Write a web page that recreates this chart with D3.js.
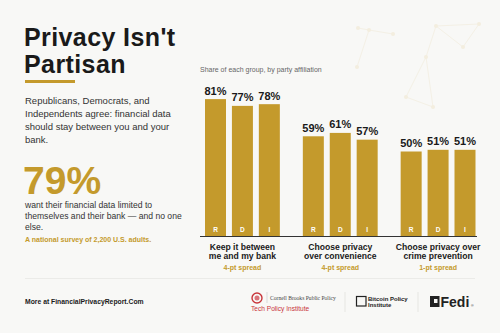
<!DOCTYPE html>
<html>
<head>
<meta charset="utf-8">
<script src="https://cdn.jsdelivr.net/npm/d3@7"></script>
<style>
  html, body { margin: 0; padding: 0; background: #f8f8f6; }
  svg { display: block; font-family: "Liberation Sans", Arial, sans-serif; }
</style>
</head>
<body>
<svg id="chart" width="500" height="333"></svg>
<script>
// data
var categories = ["Keep it between|me and my bank", "Choose privacy|over convenience", "Choose privacy over|crime prevention"];
var spreads = ["4-pt spread", "4-pt spread", "1-pt spread"];
var parties = ["R", "D", "I"];
var values = [
  [81, 77, 78],
  [59, 61, 57],
  [50, 51, 51]
];

var gold = "#c49a2c";
var svg = d3.select("#chart");

svg.append("rect").attr("width", 500).attr("height", 333).attr("fill", "#f8f8f6");

// faint constellation decoration
var stars = [[358, 28], [369, 30], [393, 34], [357, 67], [436, 26], [479, 24], [463, 47], [426, 57], [406, 97], [433, 107]];
var links = [[0, 1], [1, 2], [1, 3], [4, 5], [4, 6], [6, 5], [4, 7], [7, 8], [7, 9], [8, 9]];
var deco = svg.append("g").attr("opacity", 0.3);
links.forEach(function(l) {
  deco.append("line")
    .attr("x1", stars[l[0]][0]).attr("y1", stars[l[0]][1])
    .attr("x2", stars[l[1]][0]).attr("y2", stars[l[1]][1])
    .attr("stroke", "#e2cf9a").attr("stroke-width", 0.6);
});
stars.forEach(function(s) {
  deco.append("circle").attr("cx", s[0]).attr("cy", s[1]).attr("r", 2).attr("fill", "#ead9ac");
});

// left panel
var left = svg.append("g");
left.append("text").attr("x", 24).attr("y", 46).attr("font-size", 25).attr("font-weight", "bold")
  .attr("letter-spacing", 0.4).attr("fill", "#1a1a1a").text("Privacy Isn't");
left.append("text").attr("x", 24).attr("y", 73).attr("font-size", 25).attr("font-weight", "bold")
  .attr("letter-spacing", 0.4).attr("fill", "#1a1a1a").text("Partisan");
left.append("rect").attr("x", 25).attr("y", 80).attr("width", 50).attr("height", 3).attr("fill", gold);

var para = ["Republicans, Democrats, and", "Independents agree: financial data", "should stay between you and your", "bank."];
para.forEach(function(t, i) {
  left.append("text").attr("x", 25).attr("y", 104 + i * 13).attr("font-size", 9.5)
    .attr("fill", "#333").text(t);
});
left.append("text").attr("x", 23).attr("y", 193.5).attr("font-size", 39).attr("font-weight", "bold")
  .attr("fill", gold).text("79%");
var sub = ["want their financial data limited to", "themselves and their bank \u2014 and no one", "else."];
sub.forEach(function(t, i) {
  left.append("text").attr("x", 25).attr("y", 208 + i * 11).attr("font-size", 8.6)
    .attr("fill", "#333").text(t);
});
left.append("text").attr("x", 25).attr("y", 242).attr("font-size", 7).attr("font-weight", "bold")
  .attr("fill", gold).text("A national survey of 2,200 U.S. adults.");

// chart
svg.append("text").attr("x", 200).attr("y", 71.5).attr("font-size", 7).attr("fill", "#666")
  .text("Share of each group, by party affiliation");

var x0 = d3.scaleBand().domain(categories).range([205, 475.5]).paddingInner(0.235).paddingOuter(0);
var x1 = d3.scaleBand().domain(parties).range([0, x0.bandwidth()]).paddingInner(0.22).paddingOuter(0);
var y = d3.scaleLinear().domain([0, 100]).range([236, 67]);

var groups = svg.selectAll("g.grp").data(categories).enter().append("g")
  .attr("class", "grp")
  .attr("transform", function(d) { return "translate(" + x0(d) + ",0)"; });

groups.each(function(cat, gi) {
  var g = d3.select(this);
  var rows = parties.map(function(p, pi) { return { p: p, v: values[gi][pi] }; });
  g.selectAll("rect").data(rows).enter().append("rect")
    .attr("x", function(d) { return x1(d.p); })
    .attr("y", function(d) { return y(d.v); })
    .attr("width", x1.bandwidth())
    .attr("height", function(d) { return y(0) - y(d.v); })
    .attr("fill", gold);
  g.selectAll("text.val").data(rows).enter().append("text").attr("class", "val")
    .attr("x", function(d) { return x1(d.p) + x1.bandwidth() / 2; })
    .attr("y", function(d) { return y(d.v) - 4.5; })
    .attr("text-anchor", "middle").attr("font-size", 11).attr("font-weight", "bold")
    .attr("fill", "#1a1a1a")
    .text(function(d) { return d.v + "%"; });
  g.selectAll("text.lbl").data(rows).enter().append("text").attr("class", "lbl")
    .attr("x", function(d) { return x1(d.p) + x1.bandwidth() / 2; })
    .attr("y", 231.5)
    .attr("text-anchor", "middle").attr("font-size", 6.5).attr("font-weight", "bold")
    .attr("fill", "#fff")
    .text(function(d) { return d.p; });

  var cx = x0.bandwidth() / 2;
  cat.split("|").forEach(function(line, li) {
    g.append("text").attr("x", cx).attr("y", 249.5 + li * 9.7)
      .attr("text-anchor", "middle").attr("font-size", 8.6).attr("font-weight", "bold")
      .attr("fill", "#1a1a1a").text(line);
  });
  g.append("text").attr("x", cx).attr("y", 269.5)
    .attr("text-anchor", "middle").attr("font-size", 7).attr("font-weight", "bold")
    .attr("fill", gold).text(spreads[gi]);
});

svg.append("line").attr("x1", 200).attr("x2", 477).attr("y1", 236.5).attr("y2", 236.5)
  .attr("stroke", "#333").attr("stroke-width", 1);

// footer
svg.append("line").attr("x1", 25).attr("x2", 475).attr("y1", 278.5).attr("y2", 278.5)
  .attr("stroke", "#ebebe8").attr("stroke-width", 1);
svg.append("text").attr("x", 25).attr("y", 304).attr("font-size", 6.8).attr("font-weight", "bold")
  .attr("fill", "#1a1a1a").text("More at FinancialPrivacyReport.Com");

// logos
var foot = svg.append("g");
foot.append("circle").attr("cx", 257).attr("cy", 298).attr("r", 5).attr("fill", "none")
  .attr("stroke", "#c8353a").attr("stroke-width", 1.4);
foot.append("circle").attr("cx", 257).attr("cy", 298).attr("r", 2.5).attr("fill", "#d9747a");
foot.append("line").attr("x1", 267).attr("x2", 267).attr("y1", 292).attr("y2", 303)
  .attr("stroke", "#bbb").attr("stroke-width", 0.5);
foot.append("text").attr("x", 270).attr("y", 300).attr("font-size", 5.6)
  .attr("font-family", "Liberation Serif, serif").attr("fill", "#444").text("Cornell Brooks Public Policy");
foot.append("text").attr("x", 251).attr("y", 311).attr("font-size", 6.6)
  .attr("fill", "#c8353a").text("Tech Policy Institute");

foot.append("line").attr("x1", 345).attr("x2", 345).attr("y1", 292).attr("y2", 312)
  .attr("stroke", "#e6e6e2").attr("stroke-width", 1);
foot.append("rect").attr("x", 356.5).attr("y", 296.5).attr("width", 9.5).attr("height", 9.5)
  .attr("fill", "none").attr("stroke", "#222").attr("stroke-width", 1.2);
foot.append("text").attr("x", 368).attr("y", 300.5).attr("font-size", 6).attr("font-weight", "bold")
  .attr("fill", "#222").text("Bitcoin Policy");
foot.append("text").attr("x", 368).attr("y", 306.5).attr("font-size", 6).attr("font-weight", "bold")
  .attr("fill", "#222").text("Institute");

foot.append("line").attr("x1", 418).attr("x2", 418).attr("y1", 292).attr("y2", 312)
  .attr("stroke", "#e6e6e2").attr("stroke-width", 1);
foot.append("rect").attr("x", 430).attr("y", 296).attr("width", 9.5).attr("height", 11).attr("fill", "#222");
foot.append("rect").attr("x", 434).attr("y", 299).attr("width", 3.5).attr("height", 4).attr("fill", "#f8f8f6");
foot.append("text").attr("x", 440.5).attr("y", 307).attr("font-size", 14).attr("font-weight", "bold")
  .attr("fill", "#222").text("Fedi");
foot.append("text").attr("x", 471).attr("y", 307).attr("font-size", 3.5)
  .attr("fill", "#222").text("\u00ae");
</script>
</body>
</html>
